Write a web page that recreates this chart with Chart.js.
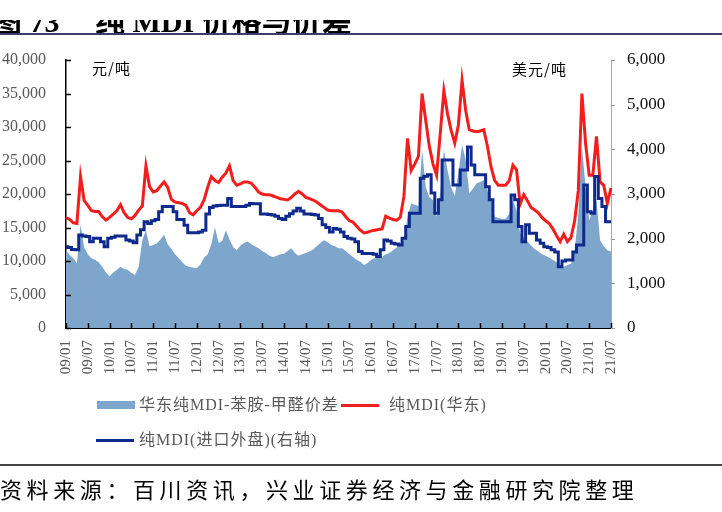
<!DOCTYPE html>
<html>
<head>
<meta charset="utf-8">
<script src="https://cdn.jsdelivr.net/npm/chart.js@4.4.0/dist/chart.umd.min.js"></script>
<style>
  body { margin: 0; background: #fff; }
  #wrap { position: relative; width: 722px; height: 512px; overflow: hidden; background: #fff; }
  #chart { position: absolute; left: 0; top: 0; }
  .abs { position: absolute; white-space: nowrap; }
  #titleBox { position: absolute; left: 0; top: 20px; width: 722px; height: 14px; overflow: hidden; }
  #titleBox span { position: absolute; top: -13px; font: bold 30px "Liberation Serif", "Noto Sans CJK SC"; line-height: 30px; color: #000; }
  .rule { position: absolute; left: 0; width: 722px; }
  .lg { font: 16px "Liberation Serif", "Noto Sans CJK SC"; letter-spacing: 1px; color: #595959; line-height: 18px; }
  .unit { font: 15px "Noto Sans CJK SC"; color: #000; letter-spacing: 1px; }
  #source { font: 22px "Noto Sans CJK SC"; letter-spacing: 4.6px; color: #000; }
</style>
</head>
<body>
<div id="wrap">
  <canvas id="chart" width="722" height="512"></canvas>
  <div id="titleBox"><span style="left:-8px">图 73</span><span style="left:95px">纯 MDI 价格与价差</span></div>
  <div class="rule" style="top:33px;height:2px;background:#3d3d6b"></div>
  <div class="abs unit" style="left:92px;top:57px">元/吨</div>
  <div class="abs unit" style="left:512px;top:58px">美元/吨</div>
  <div class="abs" style="left:97px;top:401px;width:38px;height:8px;background:#7ea6cd"></div>
  <div class="abs lg" style="left:139px;top:396px">华东纯MDI-苯胺-甲醛价差</div>
  <div class="abs" style="left:341px;top:404px;width:38px;height:3px;background:#f21d1d"></div>
  <div class="abs lg" style="left:389px;top:396px">纯MDI(华东)</div>
  <div class="abs" style="left:96px;top:439px;width:38px;height:3px;background:#0e2a8c"></div>
  <div class="abs lg" style="left:139px;top:431px">纯MDI(进口外盘)(右轴)</div>
  <div class="rule" style="top:464px;height:2px;background:#444"></div>
  <div class="abs" id="source" style="left:0;top:472px">资料来源：百川资讯，兴业证券经济与金融研究院整理</div>
</div>
<script>
// monthly points, 2009/01 .. 2021/07
const months = [];
for (let yr = 9; yr <= 21; yr++) {
  for (let mo = 1; mo <= 12; mo++) {
    if (yr === 21 && mo > 7) break;
    months.push(String(yr).padStart(2, "0") + "/" + String(mo).padStart(2, "0"));
  }
}
const tickLabels = ["09/01","09/07","10/01","10/07","11/01","11/07","12/01","12/07","13/01","13/07",
  "14/01","14/07","15/01","15/07","16/01","16/07","17/01","17/07","18/01","18/07",
  "19/01","19/07","20/01","20/07","21/01","21/07"];
const leftTicks = [0, 5000, 10000, 15000, 20000, 25000, 30000, 35000, 40000];
const rightTicks = [0, 1000, 2000, 3000, 4000, 5000, 6000];

// 华东纯MDI-苯胺-甲醛价差 (元/吨)
const spread = [
  11600,10900,10400,9700,15400,12000,11000,10400,10200,9800,9150,8300,
  7700,8300,8700,9150,8800,8700,8200,7900,9150,13100,14600,12200,
  12400,12600,13200,13900,12500,11800,11000,10400,9800,9300,9150,9000,
  8900,9500,10500,11000,12500,15000,12700,13000,14600,13200,12100,11600,
  12300,12700,12900,12500,12200,11900,11500,11200,10800,10600,10800,11000,
  11100,11500,11900,11200,10800,11000,11200,11400,11700,12200,12700,13100,
  12800,12400,12200,11900,11900,11500,11000,10600,10200,9900,9400,9700,
  10200,10400,10500,10600,11000,11200,11600,12000,12500,13100,16600,18600,
  18400,18200,26600,21100,19500,19100,16600,20100,26600,23600,21000,19700,
  23100,27300,25100,20100,20800,21600,21800,22100,20500,19100,16600,16400,
  16300,16300,17000,19100,17500,14100,13500,12900,12300,11800,11400,11000,
  10800,10500,10200,9800,9300,9150,9400,9600,11500,17000,27100,21100,
  16100,17500,19100,13100,12200,11600,11400
];
// 纯MDI(华东) (元/吨)
const priceEast = [
  16500,16200,15700,15600,22600,19000,18300,17500,17400,17400,16600,16100,
  16500,17000,17500,18400,17200,16500,16300,16800,17600,18200,24200,21100,
  20300,20500,21200,21800,21000,19200,18800,18700,18600,18300,17200,16900,
  17500,18000,19100,21000,22600,22000,21700,22500,23100,24200,22000,21300,
  21500,21800,21800,21600,21000,20300,20000,19900,19900,19700,19500,19300,
  19200,19100,19500,20000,20400,20000,19500,19300,19100,18800,18400,18000,
  17600,17500,17500,17500,17300,16600,16000,15800,15200,14600,14200,14300,
  14500,14600,14700,14800,16700,16400,16200,16100,16500,19600,28300,23500,
  24500,25600,35000,31000,27100,24500,22800,29000,35400,32000,29500,27600,
  30300,37000,32500,29600,29400,29300,29400,29600,27100,24000,22000,21300,
  21300,21300,22000,24300,23600,18500,19900,19000,18000,17600,17200,16500,
  16000,15600,14800,13800,12900,14000,12900,13500,16000,20500,35000,27600,
  22800,22800,28600,21800,21300,18600,20900
];
// 纯MDI(进口外盘) (美元/吨, 右轴)
const priceImport = [
  1820,1800,1760,1750,2080,2060,2050,1930,2010,2010,1930,1820,
  2010,2030,2060,2060,2060,1970,1950,1910,2080,2200,2380,2340,
  2400,2430,2600,2720,2720,2720,2600,2430,2430,2300,2130,2130,
  2130,2150,2190,2550,2700,2730,2740,2750,2750,2900,2720,2720,
  2720,2720,2750,2790,2780,2780,2550,2550,2540,2530,2500,2450,
  2430,2500,2560,2620,2680,2620,2550,2550,2540,2530,2450,2310,
  2250,2150,2230,2210,2150,2050,2010,1990,1930,1710,1670,1670,
  1670,1650,1600,1750,1970,1950,1900,1880,1860,2010,2270,2570,
  2570,2570,3350,3400,3430,3020,2570,2870,3760,3760,3760,3200,
  3200,3540,3540,4050,3650,3430,3430,3430,3160,2870,2380,2380,
  2380,2380,2380,2980,2870,2270,1930,2310,2120,2120,1970,1900,
  1820,1800,1750,1700,1370,1500,1520,1520,1700,1860,1860,3200,
  2600,2570,3390,2900,2720,2380,2380
];

const numFmt = (v) => v.toLocaleString("en-US");

// tick marks pointing into the plot, like the original
const innerTicks = {
  id: "innerTicks",
  afterDatasetsDraw(chart) {
    const { ctx, chartArea: a, scales } = chart;
    ctx.save();
    ctx.lineWidth = 1.5;
    ctx.strokeStyle = "#000";
    ctx.beginPath();
    months.forEach((m, i) => {
      if (!tickLabels.includes(m)) return;
      const px = Math.round(scales.x.getPixelForValue(i)) + 0.5;
      ctx.moveTo(px, a.bottom);
      ctx.lineTo(px, a.bottom - 5);
    });
    leftTicks.forEach((t) => {
      const py = Math.round(scales.y.getPixelForValue(t)) + 0.5;
      ctx.moveTo(a.left, py);
      ctx.lineTo(a.left + 5, py);
    });
    ctx.stroke();
    ctx.strokeStyle = "#999";
    ctx.lineWidth = 1;
    ctx.beginPath();
    rightTicks.forEach((t) => {
      const py = Math.round(scales.y1.getPixelForValue(t)) + 0.5;
      ctx.moveTo(a.right, py);
      ctx.lineTo(a.right + 4, py);
    });
    ctx.stroke();
    ctx.restore();
  }
};

new Chart(document.getElementById("chart"), {
  type: "line",
  data: {
    labels: months,
    datasets: [
      {
        label: "纯MDI(进口外盘)(右轴)",
        data: priceImport,
        yAxisID: "y1",
        borderColor: "#0e2a8c",
        borderWidth: 3,
        pointRadius: 0,
        stepped: "middle",
        fill: false,
        order: 0
      },
      {
        label: "纯MDI(华东)",
        data: priceEast,
        yAxisID: "y",
        borderColor: "#f21d1d",
        borderWidth: 3,
        pointRadius: 0,
        tension: 0,
        fill: false,
        order: 1
      },
      {
        label: "华东纯MDI-苯胺-甲醛价差",
        data: spread,
        yAxisID: "y",
        borderWidth: 0,
        borderColor: "#7ea6cd",
        backgroundColor: "#7ea6cd",
        pointRadius: 0,
        tension: 0,
        fill: "origin",
        order: 2
      }
    ]
  },
  options: {
    responsive: false,
    animation: false,
    layout: { padding: { top: 60, left: 0, right: 0, bottom: 0 } },
    plugins: {
      legend: { display: false },
      tooltip: { enabled: false }
    },
    scales: {
      x: {
        type: "category",
        afterFit: (s) => { s.height = 184; },
        grid: { display: false, drawTicks: false },
        border: { display: true, color: "#000", width: 2 },
        ticks: {
          autoSkip: false,
          minRotation: 90,
          maxRotation: 90,
          padding: 12,
          color: "#595959",
          font: { family: "Liberation Serif", size: 15 },
          callback: (v, i) => (tickLabels.includes(months[i]) ? months[i] : "")
        }
      },
      y: {
        position: "left",
        min: 0,
        max: 40000,
        afterFit: (s) => { s.width = 66; },
        afterBuildTicks: (s) => { s.ticks = leftTicks.map((v) => ({ value: v })); },
        grid: { display: false, drawTicks: false },
        border: { display: true, color: "#000", width: 1.5 },
        ticks: {
          padding: 20,
          color: "#595959",
          font: { family: "Liberation Serif", size: 16 },
          callback: (v) => numFmt(v)
        }
      },
      y1: {
        position: "right",
        min: 0,
        max: 6000,
        afterFit: (s) => { s.width = 111; },
        afterBuildTicks: (s) => { s.ticks = rightTicks.map((v) => ({ value: v })); },
        grid: { display: false, drawTicks: false },
        border: { display: true, color: "#aaa", width: 1 },
        ticks: {
          padding: 16,
          color: "#111",
          font: { family: "Liberation Serif", size: 17 },
          callback: (v) => numFmt(v)
        }
      }
    }
  },
  plugins: [innerTicks]
});
</script>
</body>
</html>
